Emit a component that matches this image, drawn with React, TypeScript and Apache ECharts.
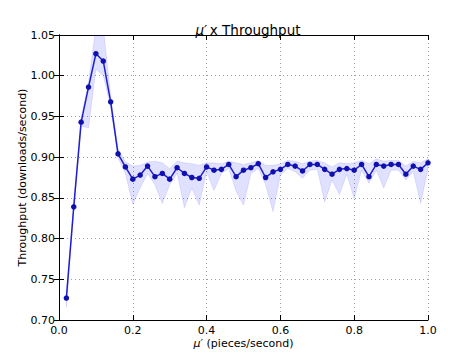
import React, { useEffect, useRef } from "react";
import * as echarts from "echarts";

const xs = [
  0.02, 0.04, 0.06, 0.08, 0.1, 0.12, 0.14, 0.16, 0.18, 0.2,
  0.22, 0.24, 0.26, 0.28, 0.3, 0.32, 0.34, 0.36, 0.38, 0.4,
  0.42, 0.44, 0.46, 0.48, 0.5, 0.52, 0.54, 0.56, 0.58, 0.6,
  0.62, 0.64, 0.66, 0.68, 0.7, 0.72, 0.74, 0.76, 0.78, 0.8,
  0.82, 0.84, 0.86, 0.88, 0.9, 0.92, 0.94, 0.96, 0.98, 1.0,
];

const meanThroughput = [
  0.727, 0.839, 0.943, 0.986, 1.027, 1.018, 0.968, 0.904, 0.888, 0.873,
  0.878, 0.889, 0.876, 0.88, 0.873, 0.887, 0.88, 0.875, 0.874, 0.888,
  0.884, 0.885, 0.891, 0.876, 0.884, 0.887, 0.892, 0.875, 0.882, 0.885,
  0.891, 0.889, 0.883, 0.891, 0.891, 0.885, 0.879, 0.885, 0.886, 0.884,
  0.891, 0.876, 0.891, 0.889, 0.891, 0.891, 0.879, 0.889, 0.885, 0.893,
];

const upperThroughput = [
  0.733, 0.842, 0.948, 0.992, 1.06, 1.06, 0.975, 0.91, 0.894, 0.889,
  0.89, 0.894, 0.895, 0.893, 0.886, 0.895, 0.893, 0.892, 0.89, 0.893,
  0.893, 0.892, 0.895, 0.893, 0.891, 0.893, 0.896, 0.89, 0.89, 0.892,
  0.896, 0.895, 0.892, 0.895, 0.896, 0.893, 0.888, 0.893, 0.892, 0.893,
  0.896, 0.892, 0.898, 0.895, 0.896, 0.896, 0.889, 0.895, 0.893, 0.898,
];

const lowerThroughput = [
  0.716, 0.836, 0.938, 0.936, 1.008, 1.0, 0.962, 0.899, 0.88, 0.842,
  0.862, 0.88, 0.866, 0.843, 0.866, 0.88, 0.838, 0.862, 0.841, 0.882,
  0.859, 0.88, 0.886, 0.858, 0.841, 0.88, 0.886, 0.866, 0.833, 0.878,
  0.886, 0.882, 0.874, 0.884, 0.885, 0.845, 0.872, 0.854, 0.879, 0.849,
  0.884, 0.868, 0.884, 0.862, 0.884, 0.884, 0.872, 0.882, 0.843, 0.885,
];

const FONT = "DejaVu Sans";

export default function App() {
  const ref = useRef<HTMLDivElement>(null);
  useEffect(() => {
    if (!ref.current) return;
    const chart = echarts.init(ref.current, undefined, { renderer: "svg" });
    const meanPts = xs.map((x, i) => [x, meanThroughput[i]]);
    const bandData = xs.map((x, i) => [x, lowerThroughput[i], upperThroughput[i]]);
    const axisCommonX = { type: "value" as const, min: 0, max: 1, interval: 0.2 };
    const axisCommonY = { type: "value" as const, min: 0.7, max: 1.05, interval: 0.05 };
    const tick = { show: true, inside: true, length: 5, lineStyle: { color: "#000" } };
    const axLine = { show: true, lineStyle: { color: "#000", width: 1 } };
    const grid = { type: [1, 3], color: "#a0a0a0", width: 1 };
    chart.setOption({
      animation: false,
      backgroundColor: "#ffffff",
      title: {
        text: "{i|μ′}\u2009x Throughput",
        left: 243,
        top: 18,
        textAlign: "center",
        textStyle: {
          fontFamily: FONT,
          fontSize: 13.5,
          fontWeight: "normal",
          color: "#000",
          rich: {
            i: { fontFamily: FONT, fontStyle: "italic", fontSize: 13.5, color: "#000" },
          },
        },
      },
      grid: { left: 59, right: 46, top: 35, bottom: 35, show: false },
      xAxis: [
        {
          ...axisCommonX,
          position: "bottom",
          name: "{i|μ′} (pieces/second)",
          nameLocation: "middle",
          nameGap: 18,
          nameMoveOverlap: false,
          nameTextStyle: {
            fontFamily: FONT,
            fontSize: 11,
            color: "#000",
            rich: { i: { fontFamily: FONT, fontStyle: "italic", fontSize: 11, color: "#000" } },
          },
          axisLine: axLine,
          axisTick: tick,
          axisLabel: {
            show: true,
            margin: 5,
            fontFamily: FONT,
            fontSize: 11,
            color: "#000",
            formatter: (v: number) => v.toFixed(1),
          },
          splitLine: { show: true, lineStyle: grid },
        },
        {
          ...axisCommonX,
          position: "top",
          axisLine: axLine,
          axisTick: tick,
          axisLabel: { show: false },
          splitLine: { show: false },
        },
      ],
      yAxis: [
        {
          ...axisCommonY,
          position: "left",
          name: "Throughput (downloads/second)",
          nameLocation: "middle",
          nameGap: 31,
          nameMoveOverlap: false,
          nameTextStyle: { fontFamily: FONT, fontSize: 11, color: "#000" },
          axisLine: axLine,
          axisTick: tick,
          axisLabel: {
            show: true,
            margin: 4,
            fontFamily: FONT,
            fontSize: 11,
            color: "#000",
            formatter: (v: number) => v.toFixed(2),
          },
          splitLine: { show: true, lineStyle: grid },
        },
        {
          ...axisCommonY,
          position: "right",
          axisLine: axLine,
          axisTick: tick,
          axisLabel: { show: false },
          splitLine: { show: false },
        },
      ],
      series: [
        {
          type: "custom",
          name: "band",
          data: bandData,
          silent: true,
          z: 1,
          renderItem: (params: any, api: any) => {
            if (params.dataIndex !== 0) return null;
            const top: number[][] = [];
            const bottom: number[][] = [];
            for (let i = 0; i < bandData.length; i++) {
              top.push(api.coord([bandData[i][0], bandData[i][2]]));
              bottom.push(api.coord([bandData[i][0], bandData[i][1]]));
            }
            const pts = top.concat(bottom.reverse());
            const cs = params.coordSys;
            return {
              type: "polygon",
              shape: { points: pts },
              style: { fill: "rgba(0,0,255,0.12)", stroke: "rgba(0,0,255,0.12)", lineWidth: 0.8 },
              clipPath: {
                type: "rect",
                shape: { x: cs.x, y: cs.y, width: cs.width, height: cs.height },
              },
            };
          },
        },
        {
          type: "line",
          name: "mean",
          data: meanPts,
          symbol: "circle",
          symbolSize: 5.5,
          lineStyle: { color: "#1f1fd0", width: 1.5 },
          itemStyle: { color: "#1010b0", borderWidth: 0 },
          z: 3,
        },
      ],
    });
    return () => chart.dispose();
  }, []);
  return (
    <div ref={ref} style={{ position: "fixed", left: 0, top: 0, width: 474, height: 355 }} />
  );
}
